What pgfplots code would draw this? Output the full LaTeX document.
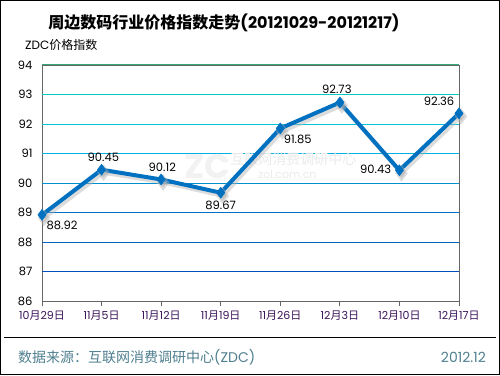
\documentclass[border=0pt]{standalone}
\usepackage{fontspec}
\usepackage{pgfplots}
\pgfplotsset{compat=1.18}
\setmainfont{Poppins}
\newfontfamily\cjk{Noto Sans CJK SC}
\definecolor{linec}{RGB}{0,112,192}
\definecolor{footc}{RGB}{80,128,144}
\definecolor{tickc}{RGB}{60,20,90}
\begin{document}
\begin{tikzpicture}[x=1pt,y=1pt]
\fill[white] (0,0) rectangle (500,375);
\draw[black, line width=1.2pt] (0.6,0.6) rectangle (499.4,374.4);
\draw[black, line width=0.8pt] (4,37.5) -- (496,37.5);
\node[font=\fontsize{16}{17}\selectfont] at (224,352) {{\cjk\bfseries 周边数码行业价格指数走势}\textbf{(20121029-20121217)}};
\node[anchor=west, font=\fontsize{12}{13}\selectfont, inner sep=0] at (25,330) {ZDC{\cjk 价格指数}};
\node[anchor=west, font=\fontsize{14}{16}\selectfont, text=footc, inner sep=0] at (18,18) {{\cjk 数据来源：互联网消费调研中心}(ZDC)};
\node[anchor=east, font=\fontsize{14}{16}\selectfont, text=footc, inner sep=0] at (486,18) {2012.12};
\begin{axis}[
  at={(42pt,74pt)}, anchor=south west,
  width=417pt, height=236pt, scale only axis,
  xmin=0, xmax=7, ymin=86, ymax=94,
  axis line style={draw=gray!80!black, line width=0.8pt},
  hide obscured x ticks=false,
  xtick={0,1,2,3,4,5,6,7},
  xticklabels={10{\cjk 月}29{\cjk 日},11{\cjk 月}5{\cjk 日},11{\cjk 月}12{\cjk 日},11{\cjk 月}19{\cjk 日},11{\cjk 月}26{\cjk 日},12{\cjk 月}3{\cjk 日},12{\cjk 月}10{\cjk 日},12{\cjk 月}17{\cjk 日}},
  xtick pos=bottom, xtick align=outside, major tick length=5pt,
  xtick style={draw=gray!80!black, line width=0.8pt},
  xticklabel style={font=\fontsize{11}{12}\selectfont, text=tickc, yshift=-1.5pt},
  ytick={86,87,88,89,90,91,92,93,94},
  ytick style={draw=none},
  yticklabel style={font=\fontsize{11.5}{12}\selectfont, xshift=-6pt},
  /pgf/number format/assume math mode=true,
  clip=false,
]
\draw[color={rgb,255:red,0;green,80;blue,192}, line width=0.8pt] (axis cs:0,87) -- (axis cs:7,87);
\draw[color={rgb,255:red,0;green,96;blue,192}, line width=0.8pt] (axis cs:0,88) -- (axis cs:7,88);
\draw[color={rgb,255:red,0;green,112;blue,200}, line width=0.8pt] (axis cs:0,89) -- (axis cs:7,89);
\draw[color={rgb,255:red,0;green,144;blue,210}, line width=0.8pt] (axis cs:0,90) -- (axis cs:7,90);
\draw[color={rgb,255:red,0;green,176;blue,224}, line width=0.8pt] (axis cs:0,91) -- (axis cs:7,91);
\draw[color={rgb,255:red,0;green,196;blue,216}, line width=0.8pt] (axis cs:0,92) -- (axis cs:7,92);
\draw[color={rgb,255:red,0;green,204;blue,190}, line width=0.8pt] (axis cs:0,93) -- (axis cs:7,93);
\draw[color={rgb,255:red,50;green,170;blue,120}, line width=1pt] (axis cs:0,94) -- (axis cs:7,94);
\node[text=gray!10, font=\fontsize{34}{36}\selectfont\bfseries, inner sep=0] at (axis cs:2.78,90.55) {ZC};
\node[text=gray!16, font=\cjk\fontsize{14}{15}\selectfont, inner sep=0] at (axis cs:4.22,90.8) {互联网消费调研中心};
\node[text=gray!16, font=\fontsize{11}{12}\selectfont, inner sep=0] at (axis cs:4.12,90.3) {zol.com.cn};
\addplot[gray!60, opacity=0.45, line width=4pt, xshift=2pt, yshift=-3pt, mark=diamond*, mark size=5pt] coordinates {
(0,88.92) (1,90.45) (2,90.12) (3,89.67) (4,91.85) (5,92.73) (6,90.43) (7,92.36)};
\addplot[linec, line width=4pt, mark=diamond*, mark size=5.5pt, mark options={fill=linec, line width=0.5pt}] coordinates {
(0,88.92) (1,90.45) (2,90.12) (3,89.67) (4,91.85) (5,92.73) (6,90.43) (7,92.36)};
\begin{scope}[font=\fontsize{11.5}{12}\selectfont]
\node[anchor=north west] at (axis cs:0.02,88.82) {88.92};
\node[anchor=south] at (axis cs:1.03,90.6) {90.45};
\node[anchor=south] at (axis cs:2.02,90.27) {90.12};
\node[anchor=north] at (axis cs:3.0,89.5) {89.67};
\node[anchor=north west] at (axis cs:4.0,91.75) {91.85};
\node[anchor=south] at (axis cs:4.95,92.9) {92.73};
\node[anchor=east] at (axis cs:5.92,90.45) {90.43};
\node[anchor=south east] at (axis cs:6.98,92.5) {92.36};
\end{scope}
\end{axis}
\end{tikzpicture}
\end{document}
